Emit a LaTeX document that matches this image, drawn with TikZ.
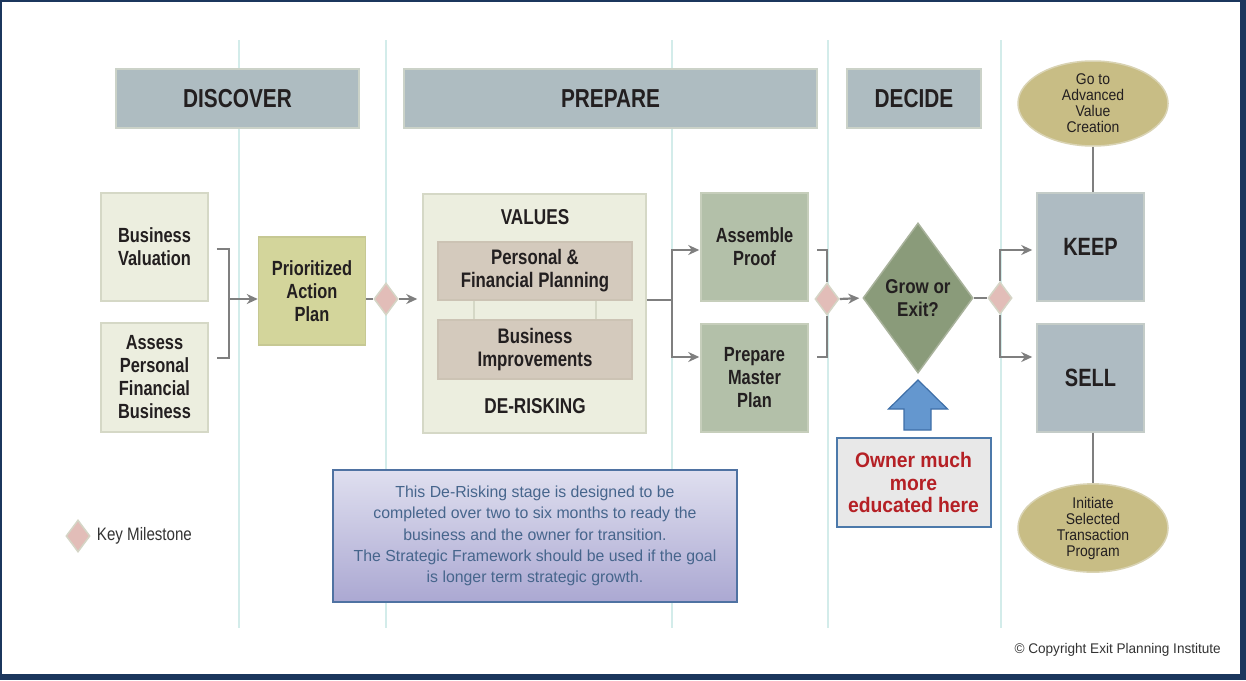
\documentclass[tikz,border=0pt]{standalone}
\usepackage{fontspec}
\setmainfont{Liberation Sans}[FakeStretch=0.8]
\newfontfamily\notefont{Liberation Sans}[FakeStretch=0.99]
\newfontfamily\ownerfont{Liberation Sans}[FakeStretch=0.92]
\newfontfamily\goefont{Liberation Sans}[FakeStretch=0.85]
\newfontfamily\keyfont{Liberation Sans}[FakeStretch=0.84]
\newfontfamily\copyfont{Liberation Sans}[FakeStretch=0.97]
\newfontfamily\goldfont{Liberation Sans}[FakeStretch=0.9]
\usetikzlibrary{shapes.geometric,arrows.meta,calc}
\definecolor{navy}{HTML}{1B365D}
\definecolor{guidec}{HTML}{D3ECEA}
\definecolor{hdrfill}{HTML}{AEBCC1}
\definecolor{hdrdraw}{HTML}{CBD2C8}
\definecolor{lightfill}{HTML}{ECEEDF}
\definecolor{lightdraw}{HTML}{D5D8C6}
\definecolor{olivefill}{HTML}{D3D59B}
\definecolor{olivedraw}{HTML}{C6C893}
\definecolor{tanfill}{HTML}{D4CABD}
\definecolor{tandraw}{HTML}{CCC3B4}
\definecolor{sagefill}{HTML}{B3C0A9}
\definecolor{sagedraw}{HTML}{C6CEBB}
\definecolor{darksage}{HTML}{8A9B7A}
\definecolor{darksagedraw}{HTML}{A8B29B}
\definecolor{milefill}{HTML}{E2BDB8}
\definecolor{miledraw}{HTML}{D5D5C6}
\definecolor{bluegray}{HTML}{AEBBC2}
\definecolor{bluegraydraw}{HTML}{C4CCC8}
\definecolor{goldfill}{HTML}{C8BD85}
\definecolor{golddraw}{HTML}{D9D3B3}
\definecolor{conn}{HTML}{7F7F7F}
\definecolor{txt}{HTML}{231F20}
\definecolor{notetxt}{HTML}{46658C}
\definecolor{notedraw}{HTML}{4F72A2}
\definecolor{notetop}{HTML}{DFDFEF}
\definecolor{notebot}{HTML}{ABA8D2}
\definecolor{ownerred}{HTML}{B52025}
\definecolor{ownerdraw}{HTML}{4C79AA}
\definecolor{arrowblue}{HTML}{6497CF}
\definecolor{arrowbluedraw}{HTML}{3E6FA8}
\tikzset{
  guide/.style={draw=guidec, line width=1.2pt},
  hdr/.style={rectangle, fill=hdrfill, draw=hdrdraw, line width=1.5pt, text=txt,
    font=\fontsize{26}{30}\selectfont\bfseries, inner sep=0pt},
  lbox/.style={rectangle, fill=lightfill, draw=lightdraw, line width=1.5pt, text=txt,
    minimum width=107pt, minimum height=108pt, align=center, inner sep=0pt,
    font=\fontsize{20.5}{23}\selectfont\bfseries},
  obox/.style={lbox, fill=olivefill, draw=olivedraw},
  tbox/.style={lbox, fill=tanfill, draw=tandraw, minimum width=194pt, minimum height=58pt,
    font=\fontsize{21}{23}\selectfont\bfseries},
  sbox/.style={lbox, fill=sagefill, draw=sagedraw},
  kbox/.style={lbox, fill=bluegray, draw=bluegraydraw, font=\fontsize{25}{28}\selectfont\bfseries},
  mile/.style={diamond, fill=milefill, draw=miledraw, line width=1.5pt,
    minimum width=24pt, minimum height=32pt, inner sep=0pt},
  gold/.style={ellipse, fill=goldfill, draw=golddraw, line width=1.5pt, text=txt,
    minimum width=150pt, minimum height=85pt, inner sep=0pt, align=center,
    font=\goldfont\fontsize{15.5}{16}\selectfont},
  conline/.style={draw=conn, line width=2.2pt},
  conarrow/.style={conline, -{Stealth[length=11pt,width=10pt]}},
}
\begin{document}
\begin{tikzpicture}[x=1pt,y=-1pt]
\fill[navy] (0,0) rectangle (1246,680);
\fill[white] (2,2) rectangle (1240,674);
\useasboundingbox (0,0) rectangle (1246,680);

% guide lines
\foreach \gx in {239,386,672,828,1001}
  \draw[guide] (\gx,40) -- (\gx,628);

% headers
\node[hdr, minimum width=243pt, minimum height=59pt] (discover) at (237.5,98.5) {DISCOVER};
\node[hdr, minimum width=413pt, minimum height=59pt] (prepare) at (610.5,98.5) {PREPARE};
\node[hdr, minimum width=134pt, minimum height=59pt] (decide) at (914,98.5) {DECIDE};

% discover column
\node[lbox] (bv) at (154.5,247) {Business\\Valuation};
\node[lbox, minimum height=109pt] (ap) at (154.5,377.5) {Assess\\Personal\\Financial\\Business};
\node[obox] (pap) at (312,291) {Prioritized\\Action\\Plan};
\node[mile] (m1) at (386,299) {};

% values block
\node[rectangle, fill=lightfill, draw=lightdraw, line width=1.5pt,
      minimum width=223pt, minimum height=239pt] (values) at (534.5,313.5) {};
\node[text=txt, font=\fontsize{21.5}{24}\selectfont\bfseries] (valt) at (535,217) {VALUES};
\node[tbox] (pfp) at (535,271) {Personal \&\\Financial Planning};
\node[tbox, minimum height=59pt] (bi) at (535,349.5) {Business\\Improvements};
\node[text=txt, font=\fontsize{21.5}{24}\selectfont\bfseries] (derisk) at (535,406) {DE-RISKING};
\draw[draw=lightdraw, line width=1.5pt] (pfp.south -| 474,0) -- (bi.north -| 474,0);
\draw[draw=lightdraw, line width=1.5pt] (pfp.south -| 596,0) -- (bi.north -| 596,0);

% prepare column
\node[sbox] (asm) at (754.5,247) {Assemble\\Proof};
\node[sbox] (pmp) at (754.5,378) {Prepare\\Master\\Plan};
\node[mile] (m2) at (827,299) {};

% decide
\node[diamond, fill=darksage, draw=darksagedraw, line width=1.5pt, text=txt,
      minimum width=110pt, minimum height=150pt, inner sep=0pt, align=center,
      font=\goefont\fontsize{20}{23}\selectfont\bfseries] (goe) at (918,298) {Grow or\\Exit?};
\node[mile] (m3) at (1000,298) {};

% keep / sell
\node[kbox] (keep) at (1090.5,247) {KEEP};
\node[kbox] (sell) at (1090.5,378) {SELL};
\node[gold] (goto) at (1093,103.5) {Go to\\Advanced\\Value\\Creation};
\node[gold, minimum height=84pt] (init) at (1093,528) {Initiate\\Selected\\Transaction\\Program};

% bracket + arrows (discover)
\path (bv.east) ++(8,2) coordinate (b1);
\path (ap.east) ++(8,-19.5) coordinate (b2);
\path (b1) ++(12,0) coordinate (b1c);
\path (b2) ++(12,0) coordinate (b2c);
\path (b1c) ++(0,50) coordinate (bmid);
\draw[conline] (b1) -- (b1c) -- (b2c) -- (b2);
\draw[conarrow] (bmid) -- (pap.west |- bmid);
\draw[conline] (pap.east |- m1) -- (m1.west);
\draw[conarrow, shorten >=5pt] (m1.east) -- (values.west |- m1);

% values -> assemble / prepare
\coordinate (vsplit) at (672,300);
\draw[conline] (values.east |- vsplit) -- (vsplit);
\coordinate (vup) at (672,250);
\coordinate (vdn) at (672,357);
\draw[conarrow, shorten >=1pt] (vsplit) -- (vup) -- (asm.west |- vup);
\draw[conarrow, shorten >=1pt] (vsplit) -- (vdn) -- (pmp.west |- vdn);

% right bracket to m2
\coordinate (r1) at (817,250);
\coordinate (r2) at (817,357);
\draw[conline] (r1) -- (m2.center |- r1) -- (m2.north);
\draw[conline] (r2) -- (m2.center |- r2) -- (m2.south);
\draw[conarrow, shorten >=3pt] (m2.east) -- (goe.west);

% decide -> keep/sell
\draw[conline] (goe.east) -- (m3.west);
\coordinate (kup) at (1000,250);
\coordinate (sdn) at (1000,357);
\draw[conarrow, shorten >=4pt] (m3.north) -- (kup) -- (keep.west |- kup);
\draw[conarrow, shorten >=4pt] (m3.south) -- (sdn) -- (sell.west |- sdn);
\draw[conline] (goto.south) -- (goto.south |- keep.north);
\draw[conline] (init.north |- sell.south) -- (init.north);

% note box
\node[rectangle, top color=notetop, bottom color=notebot,
      draw=notedraw, line width=2pt, minimum width=404pt, minimum height=132pt,
      text=notetxt, align=center, inner sep=0pt,
      font=\notefont\fontsize{16}{21.3}\selectfont] (note) at (535,536)
  {This De-Risking stage is designed to be\\
   completed over two to six months to ready the\\
   business and the owner for transition.\\
   The Strategic Framework should be used if the goal\\
   is longer term strategic growth.};

% owner box + blue arrow
\node[rectangle, fill=black!9, draw=ownerdraw, line width=2pt,
      minimum width=154pt, minimum height=89pt, text=ownerred, align=center, inner sep=0pt,
      font=\ownerfont\fontsize{21}{22.5}\selectfont\bfseries] (owner) at (913.5,482.5)
  {Owner much\\more\\educated here};
\fill[arrowblue, draw=arrowbluedraw, line width=1.2pt]
  (918,380) -- (947.5,409) -- (931,409) -- (931,430) -- (904,430) -- (904,409) -- (888.5,409) -- cycle;

% legend
\node[mile] (keym) at (78,536) {};
\node[anchor=west, text=black!80, font=\keyfont\fontsize{18}{20}\selectfont, inner sep=0pt] (keyt)
  at ($(keym.east)+(6,0)$) {Key Milestone};

% copyright
\node[anchor=east, text=black!80, font=\copyfont\fontsize{14}{16}\selectfont, inner sep=0pt] (copy)
  at (1221,650) {© Copyright Exit Planning Institute};
\end{tikzpicture}
\end{document}
